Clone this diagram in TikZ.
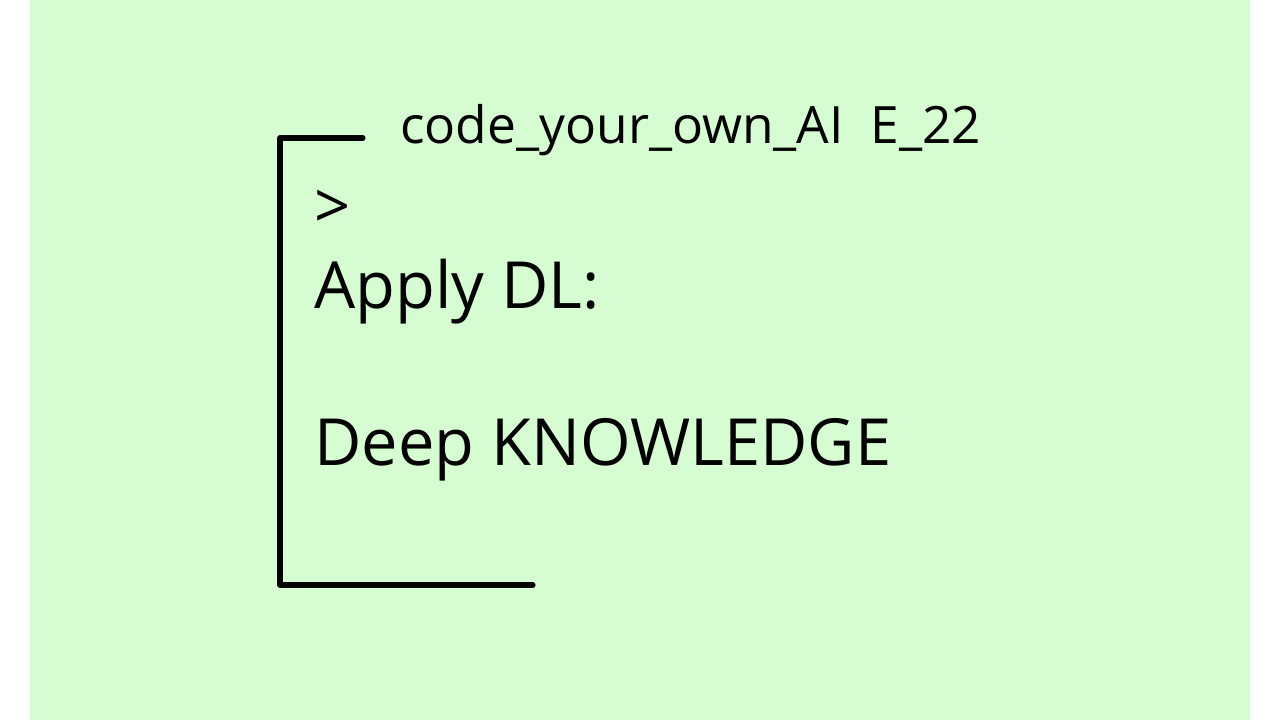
\documentclass[tikz,border=0pt]{standalone}
\usepackage{fontspec}
\setmainfont{Open Sans}
\definecolor{bg}{HTML}{D6FDD1}
\begin{document}
\begin{tikzpicture}[x=0.02cm,y=-0.02cm,
  txt/.style={anchor=base west,inner sep=0pt,text=black},
  brk/.style={line width=2.9pt,line cap=round,line join=round}]
\useasboundingbox (0,0) rectangle (1280,720);
\fill[white] (0,0) rectangle (1280,720);
\fill[bg] (30,0) rectangle (1250,720);
\draw[brk] (363,138) -- (280,138) -- (280,585) -- (533,585);
\node[txt,font=\fontsize{29.3}{34}\selectfont] (t) at (400,143) {code\_your\_own\_AI\ \ E\_22};
\node[txt,font=\fontsize{36}{40}\selectfont] (g) at (314,228) {>};
\node[txt,font=\fontsize{37}{44}\selectfont] (a) at (314,308) {Apply DL:};
\node[txt,font=\fontsize{37}{44}\selectfont] (d) at (314,465) {Deep KNOWLEDGE};
\end{tikzpicture}
\end{document}
